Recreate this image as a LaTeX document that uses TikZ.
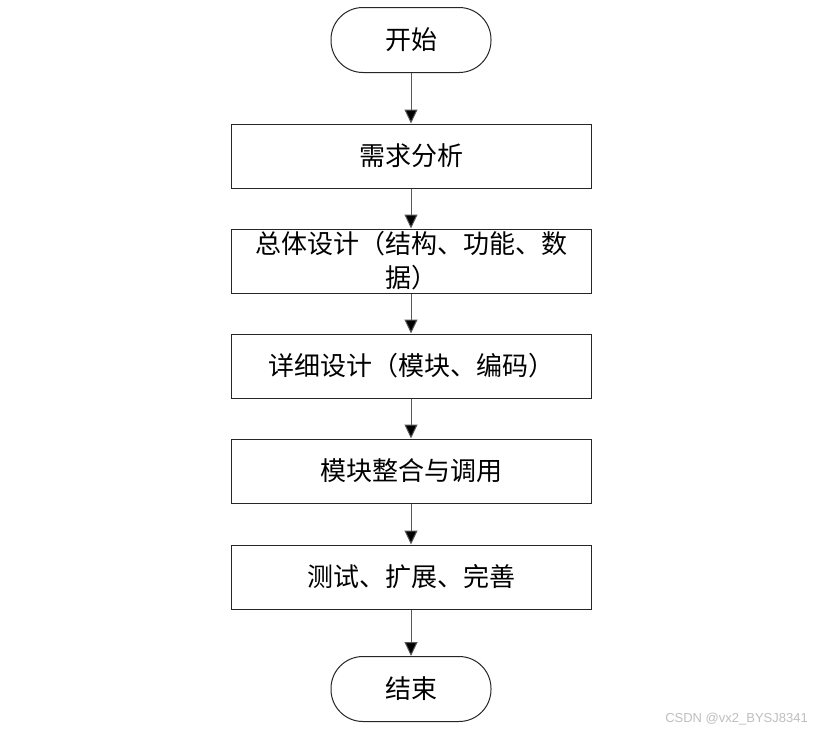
\documentclass[tikz,border=0pt]{standalone}
\usepackage{fontspec}
\newfontfamily\cjk{Noto Sans CJK SC}
\setsansfont{Liberation Sans}
\usetikzlibrary{arrows.meta}
\begin{document}
\begin{tikzpicture}[x=1pt,y=-1pt,
  box/.style={draw=black!85,line width=1pt,minimum width=360pt,minimum height=64pt,inner sep=0pt,font=\cjk\fontsize{26}{34}\selectfont,align=center},
  term/.style={draw=black!85,line width=1pt,rounded corners=32pt,minimum width=160pt,minimum height=65pt,inner sep=0pt,font=\cjk\fontsize{26}{34}\selectfont},
  arr/.style={draw=black!65,line width=1pt,-{Triangle[length=14pt,width=13pt,fill=black]}}]
\fill[white] (0,0) rectangle (830,736);
\node[term] (s) at (411,40) {开始};
\node[box] (a) at (411,156) {需求分析};
\node[box] (b) at (411,261) {总体设计（结构、功能、数\\据）};
\node[box] (c) at (411,366) {详细设计（模块、编码）};
\node[box] (d) at (411,471) {模块整合与调用};
\node[box] (e) at (411,577) {测试、扩展、完善};
\node[term] (t) at (411,689) {结束};
\draw[arr] (s) -- (a);
\draw[arr] (a) -- (b);
\draw[arr] (b) -- (c);
\draw[arr] (c) -- (d);
\draw[arr] (d) -- (e);
\draw[arr] (e) -- (t);
\node[anchor=east,text=black!25,font=\sffamily\fontsize{13}{15}\selectfont,inner sep=0pt] (wm) at (808,719) {CSDN @vx2\_BYSJ8341};
\end{tikzpicture}
\end{document}
